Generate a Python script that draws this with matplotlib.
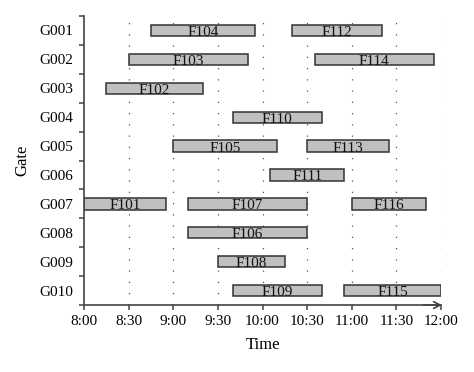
import matplotlib
matplotlib.use("Agg")
import matplotlib.pyplot as plt

plt.rcParams['font.family'] = ['Liberation Serif', 'DejaVu Serif']

gates = ["G001", "G002", "G003", "G004", "G005", "G006", "G007", "G008", "G009", "G010"]
flights = ["F104", "F112", "F103", "F114", "F102", "F110", "F105", "F113", "F111",
           "F101", "F107", "F116", "F106", "F108", "F109", "F115"]
flight_gate = ["G001", "G001", "G002", "G002", "G003", "G004", "G005", "G005", "G006",
               "G007", "G007", "G007", "G008", "G009", "G010", "G010"]
starts = ["8:45", "10:20", "8:30", "10:35", "8:15", "9:40", "9:00", "10:30", "10:05",
          "8:00", "9:10", "11:00", "9:10", "9:30", "9:40", "10:55"]
ends = ["9:55", "11:20", "9:50", "11:55", "9:20", "10:40", "10:10", "11:25", "10:55",
        "8:55", "10:30", "11:50", "10:30", "10:15", "10:40", "12:00"]
tick_times = ["8:00", "8:30", "9:00", "9:30", "10:00", "10:30", "11:00", "11:30", "12:00"]


def to_min(s):
    h, m = s.split(":")
    return int(h) * 60 + int(m)


fig = plt.figure(figsize=(4.74, 3.72), dpi=100)
ax = fig.add_axes([0.1772, 0.18, 0.7532, 0.777])

axis_col = "#444444"

# dotted verticals
for t in tick_times[1:]:
    ax.axvline(to_min(t), color="#555555", lw=0.9, ls=(0, (1, 8)), zorder=0)

for f, g, s, e in zip(flights, flight_gate, starts, ends):
    y = gates.index(g)
    x0, x1 = to_min(s), to_min(e)
    ax.barh(y, x1 - x0, left=x0, height=0.39, color="#c0c0c0",
            edgecolor="#333333", linewidth=1.1, zorder=2)
    ax.text((x0 + x1) / 2, y + 0.07, f, ha="center", va="center",
            fontsize=11, color="#111111", zorder=3)

ax.set_xlim(to_min("8:00"), to_min("12:00"))
ax.set_ylim(len(gates) - 0.5, -0.5)

ax.set_xticks([to_min(t) for t in tick_times])
ax.set_xticklabels(tick_times, fontsize=11)

ax.set_yticks([i - 0.5 for i in range(len(gates) + 1)])
ax.set_yticklabels([])
ax.set_yticks(range(len(gates)), minor=True)
ax.set_yticklabels(gates, minor=True, fontsize=11)
ax.tick_params(axis="y", which="minor", length=0, pad=8)
ax.tick_params(axis="y", which="major", length=3.5, width=1.1, color=axis_col)
ax.tick_params(axis="x", length=3.5, width=1.1, color=axis_col, pad=4)

for sp in ["top", "right"]:
    ax.spines[sp].set_visible(False)
ax.spines["left"].set_color(axis_col)
ax.spines["left"].set_linewidth(1.2)
ax.spines["bottom"].set_color(axis_col)
ax.spines["bottom"].set_linewidth(1.2)

ax.annotate("", xy=(1.003, 0), xytext=(0.95, 0), xycoords="axes fraction",
            arrowprops=dict(arrowstyle="->", color=axis_col, lw=1.2,
                            mutation_scale=12, shrinkA=0, shrinkB=0))

ax.set_xlabel("Time", fontsize=12, labelpad=6)
ax.set_ylabel("Gate", fontsize=12, labelpad=6)

fig.savefig("out.png", dpi=100)
